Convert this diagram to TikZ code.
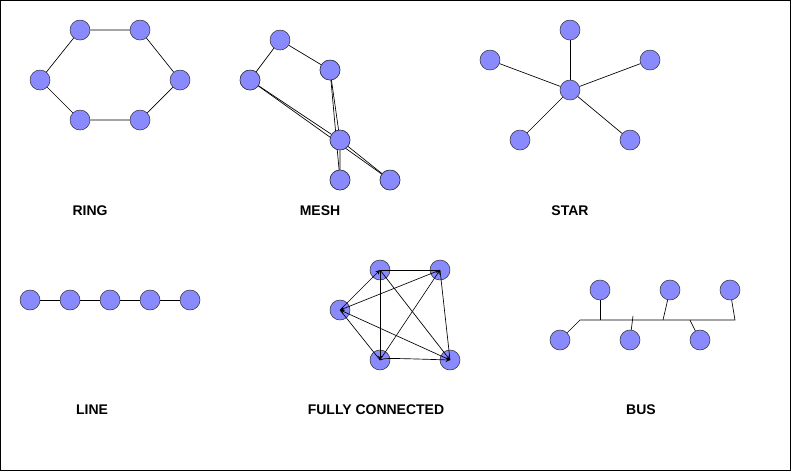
\documentclass[tikz,border=0pt]{standalone}
\usepackage{fontspec}
\setmainfont{Liberation Sans}
\begin{document}
\begin{tikzpicture}[x=0.75pt,y=-0.75pt,
  n/.style={circle,draw=black!80,fill=blue!40!white!90!blue,minimum size=15pt,inner sep=0pt},
  lab/.style={font=\bfseries\fontsize{10.5}{12}\selectfont},
  e/.style={draw=black,line width=0.5pt},
  a/.style={-stealth}]
\draw[line width=0.8pt] (0.5,0.5) rectangle (790.5,470.5);
\useasboundingbox (0,0) rectangle (791,471);
% ring
\node[n] (r1) at (80,30) {}; \node[n] (r2) at (140,30) {}; \node[n] (r3) at (180,80) {};
\node[n] (r4) at (140,120) {}; \node[n] (r5) at (80,120) {}; \node[n] (r6) at (40,80) {};
\draw[e] (r1)--(r2)--(r3)--(r4)--(r5)--(r6)--(r1);
\node[lab] (lr) at (90,211) {RING};
% mesh
\node[n] (m1) at (280,40) {}; \node[n] (m2) at (330,70) {}; \node[n] (m3) at (250,80) {};
\node[n] (m4) at (340,140) {}; \node[n] (m5) at (340,180) {}; \node[n] (m6) at (390,180) {};
\draw[e] (m3)--(m1)--(m2);
\begin{scope}[on background layer/.style={}]
\draw[e] (m3.center)--(m6.center); \draw[e] (m2.center)--(m5.center);
\end{scope}
\node[n] at (250,80) {}; \node[n] at (330,70) {}; \node[n] at (390,180) {}; \node[n] at (340,180) {};
\node[n] (m4b) at (340,140) {};
\draw[e] (m3)--(m4b) (m2)--(m4b) (m4b)--(m5) (m4b)--(m6);
\node[lab] (lm) at (320,211) {MESH};
% star
\node[n] (s0) at (570,90) {};
\node[n] (s1) at (570,30) {}; \node[n] (s2) at (490,60) {}; \node[n] (s3) at (650,60) {};
\node[n] (s4) at (520,140) {}; \node[n] (s5) at (630,140) {};
\foreach \s in {s1,s2,s3,s4,s5} \draw[e] (s0)--(\s);
\node[lab] (ls) at (570,211) {STAR};
% line
\foreach \i/\x in {1/30,2/70,3/110,4/150,5/190} \node[n] (l\i) at (\x,300) {};
\draw[e] (l1)--(l2)--(l3)--(l4)--(l5);
\node[lab] (ll) at (92,410) {LINE};
% fully connected
\node[n] (fa) at (380,270) {}; \node[n] (fb) at (440,270) {}; \node[n] (fc) at (340,310) {};
\node[n] (fd) at (380,360) {}; \node[n] (fe) at (450,360) {};
\draw[e] (fa.center)--(fb.center);
\draw[e,a] (fa.center)--(fd.center);
\draw[e,a] (fa.center)--(fe.center);
\draw[e,a] (fb.center)--(fc.center);
\draw[e,a] (fd.center)--(fb.center);
\draw[e] (fb.center)--(fe.center);
\draw[e,a] (fc.center)--(fa.center);
\draw[e,a] (fe.center)--(fc.center);
\draw[e] (fc.center)--(fd.center);
\draw[e,a] (fd.center) .. controls (385,358) .. (fe.center);
\node[lab] (lf) at (376,410) {FULLY CONNECTED};
% bus
\node[n] (b1) at (600,290) {}; \node[n] (b2) at (670,290) {}; \node[n] (b3) at (730,290) {};
\node[n] (b4) at (560,340) {}; \node[n] (b5) at (630,340) {}; \node[n] (b6) at (700,340) {};
\coordinate (bl) at (580,320); \coordinate (br) at (735,320);
\coordinate (c1) at (600,320); \coordinate (c2) at (663,320); \coordinate (c3) at (633,316);
\coordinate (c4) at (690,320);
\draw[e] (b4)--(bl)--(br)--(b3);
\draw[e] (b1)--(c1); \draw[e] (b2)--(c2); \draw[e] (c3)--(b5); \draw[e] (c4)--(b6);
\node[lab] (lb) at (641,410) {BUS};
\end{tikzpicture}
\end{document}
